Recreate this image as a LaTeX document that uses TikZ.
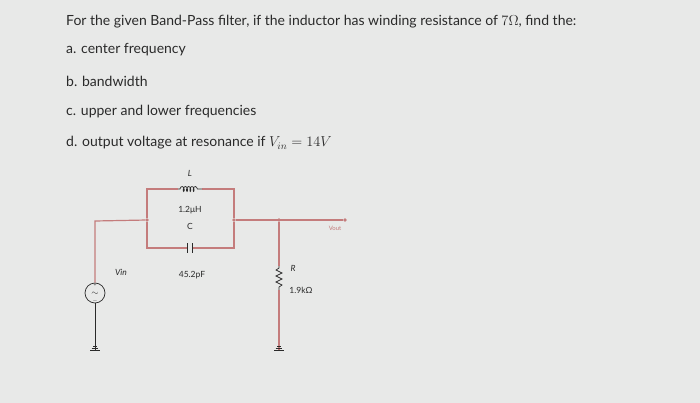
\documentclass[tikz,border=0pt]{standalone}
\usepackage{fontspec}
\setmainfont{Lato}
\usetikzlibrary{decorations.pathmorphing}
\definecolor{bg}{HTML}{E8E9E8}
\definecolor{wire}{HTML}{C47C7C}
\definecolor{txt}{HTML}{2A2A2A}
\begin{document}
\begin{tikzpicture}[x=1pt,y=-1pt,
  q/.style={anchor=west,inner sep=0pt,text=txt,font=\fontsize{14}{16}\selectfont},
  lab/.style={inner sep=0pt,text=txt,font=\fontsize{8.5}{9}\selectfont},
  w/.style={draw=wire,line width=1.2pt},
  dot/.style={circle,fill=wire,inner sep=1.4pt}]
\fill[bg] (0,0) rectangle (700,403);
\useasboundingbox (0,0) rectangle (700,403);
\node[q] (t) at (66,22) {For the given Band-Pass filter, if the inductor has winding resistance of $7\Omega$, find the:};
\node[q] (a) at (66,50) {a. center frequency};
\node[q] (b) at (66,81) {b. bandwidth};
\node[q] (c) at (66,112) {c. upper and lower frequencies};
\node[q] (d) at (66,143) {d. output voltage at resonance if $V_{in}=14V$};
\coordinate (sTop) at (95,221);
\node[dot] (n1) at (147,220) {};
\node[dot] (n2) at (234,220) {};
\node[dot] (n3) at (279,220) {};
\node[dot] (vout) at (345,220) {};
\coordinate (lt) at (147,189); \coordinate (rt) at (234,189);
\coordinate (lb) at (147,248); \coordinate (rb) at (234,248);
\node[circle,draw=txt,line width=0.7pt,minimum size=20pt,inner sep=0pt] (src) at (95,293) {};
\node[inner sep=0pt,font=\fontsize{9}{9}\selectfont,text=txt] (sw) at (95,294) {$\sim$};
\node[inner sep=0pt,font=\fontsize{5}{5}\selectfont,text=txt] (sp) at (95,285.5) {+};
\node[inner sep=0pt,font=\fontsize{5}{5}\selectfont,text=txt] (sm) at (95,301) {$-$};
\coordinate (g1) at (95,350); \coordinate (g2) at (279,350);
\draw[w] (src.north) -- (sTop) -- (n1);
\draw[w] (n1) -- (lt) -- (178,189);
\draw[w] (202,189) -- (rt) -- (n2);
\draw[txt,line width=0.7pt] (178,189) -- (180,189)
  decorate[decoration={coil,segment length=3.3pt,amplitude=2.5pt,aspect=0.5}]{-- (200,189)} -- (202,189);
\draw[w] (n1) -- (lb) -- (187.5,248);
\draw[w] (192.5,248) -- (rb) -- (n2);
\draw[txt,line width=0.7pt] (187.5,243) -- (187.5,253) (192.5,243) -- (192.5,253);
\draw[w] (n2) -- (vout);
\draw[w] (n3) -- (279,266);
\draw[txt,line width=0.7pt] (279,266) -- (279,268) -- (276,270) -- (282,273) -- (276,276) -- (282,279) -- (276,282) -- (282,285) -- (279,287) -- (279,290);
\draw[w] (279,290) -- (g2);
\draw[txt,line width=0.7pt] (src.south) -- (g1);
\foreach \g in {g1,g2}{
  \draw[txt,line width=0.7pt] ([xshift=-5pt]\g) -- ([xshift=5pt]\g)
     ([xshift=-3.3pt,yshift=2pt]\g) -- ([xshift=3.3pt,yshift=2pt]\g)
     ([xshift=-1.6pt,yshift=4pt]\g) -- ([xshift=1.6pt,yshift=4pt]\g);}
\node[lab,font=\fontsize{8.5}{9}\itshape] (lL) at (190,173) {L};
\node[lab] (lLv) at (190,210) {1.2μH};
\node[lab] (lC) at (190,226) {C};
\node[lab] (lCv) at (192,275) {45.2pF};
\node[lab,font=\fontsize{8.5}{9}\itshape] (lV) at (121,272) {Vin};
\node[lab,font=\fontsize{8.5}{9}\itshape] (lR) at (293,268) {R};
\node[lab] (lRv) at (301,290) {1.9kΩ};
\node[lab,text=wire,font=\fontsize{6}{7}\selectfont] (lVo) at (335,228) {Vout};
\end{tikzpicture}
\end{document}
